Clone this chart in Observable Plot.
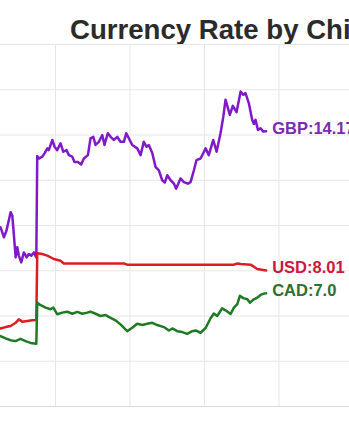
<!DOCTYPE html>
<html>
<head>
<meta charset="utf-8">
<script src="https://cdn.jsdelivr.net/npm/d3@7"></script>
<script src="https://cdn.jsdelivr.net/npm/@observablehq/plot@0.6"></script>
<style>
  html, body { margin: 0; padding: 0; background: #fff; overflow: hidden; }
  #wrap { position: relative; width: 349px; height: 436px; overflow: hidden; }
  #title { position: absolute; left: 70px; top: 16px; white-space: nowrap;
    font: bold 27.6px "Liberation Sans", Arial, sans-serif; line-height: 1; color: #2b2b2b; }
  #chart { position: absolute; left: 0; top: 43px; }
</style>
</head>
<body>
<div id="wrap">
  <div id="title">Currency Rate by China</div>
  <div id="chart"></div>
</div>
<script>
// ---- data (years, CNY per unit of currency) ----
const gbpYears = [1992.05,1992.23,1992.37,1992.59,1992.68,1992.76,1992.86,1992.95,1993.03,1993.16,1993.30,1993.45,1993.57,1993.70,1993.84,1993.97,
  1994.02,1994.11,1994.29,1994.41,1994.56,1994.64,1994.83,1994.95,1995.09,1995.27,1995.42,1995.59,1995.72,1995.90,1996.02,1996.20,1996.38,1996.52,1996.74,1996.88,
  1997.03,1997.15,1997.33,1997.51,1997.63,1997.81,1997.96,1998.13,1998.32,1998.49,1998.67,1998.80,1998.94,1999.12,1999.39,1999.57,1999.74,1999.89,
  2000.01,2000.20,2000.37,2000.55,2000.73,2000.87,2001.00,2001.18,2001.36,2001.48,2001.71,2001.89,2002.11,2002.25,2002.43,2002.57,2002.79,
  2003.06,2003.23,2003.47,2003.65,2003.86,2004.01,2004.13,2004.36,2004.52,2004.72,2004.94,2005.08,2005.20,2005.38,2005.56,2005.65,2005.74,2005.87,2006.01,2006.16,2006.31];
const gbpRates = [9.92,9.48,9.78,10.59,10.44,9.64,8.59,9.04,8.67,8.37,8.81,8.59,8.74,8.67,8.81,8.59,
  13.07,12.96,13.04,13.19,13.41,13.33,13.78,13.48,13.33,13.63,13.26,13.33,13.11,13.04,12.81,12.81,12.70,12.96,13.11,13.85,
  13.92,13.56,13.70,14.00,13.56,14.08,13.92,13.78,13.92,13.70,13.70,14.08,13.85,13.56,13.41,13.11,13.70,13.48,
  13.56,13.19,12.59,12.44,12.00,11.90,12.22,12.00,11.85,11.63,12.08,11.92,11.85,11.92,12.44,12.89,12.96,
  13.41,13.11,13.78,13.26,14.08,14.81,15.56,14.89,15.29,15.01,15.92,15.78,15.85,15.41,14.67,14.49,14.67,14.22,14.30,14.15,14.17];

const usdYears = [1992.05,1992.32,1992.59,1992.86,1993.03,1993.22,1993.48,1993.75,1993.97,1994.02,1994.29,1994.56,1994.91,1995.27,1995.45,1995.99,
  1997.96,1998.67,1998.85,2004.58,2004.76,2004.94,2005.47,2005.65,2005.83,2006.31];
const usdRates = [5.45,5.51,5.56,5.70,5.85,5.75,5.78,5.81,5.82,8.77,8.74,8.67,8.52,8.44,8.32,8.32,
  8.32,8.32,8.27,8.27,8.32,8.30,8.27,8.18,8.08,8.01];

const cadYears = [1992.05,1992.32,1992.59,1992.86,1993.12,1993.39,1993.66,1993.97,1994.02,1994.20,1994.47,1994.73,1994.88,1995.09,1995.36,1995.63,1995.90,
  1996.17,1996.44,1996.70,1996.88,1997.15,1997.42,1997.69,1997.96,1998.22,1998.49,1998.85,1999.12,1999.39,1999.66,1999.93,2000.20,2000.46,2000.82,
  2001.09,2001.27,2001.54,2001.81,2002.07,2002.34,2002.52,2002.79,2003.06,2003.32,2003.50,2003.68,2003.95,2004.13,2004.40,2004.58,2004.76,2004.90,
  2005.08,2005.30,2005.44,2005.65,2005.83,2006.01,2006.19,2006.31];
const cadRates = [5.11,5.01,4.93,4.89,4.99,4.89,4.81,4.77,6.59,6.48,6.37,6.30,6.37,6.08,6.15,6.19,6.10,
  6.18,6.10,6.15,6.19,6.10,6.00,6.04,5.92,5.81,5.63,5.33,5.48,5.66,5.60,5.66,5.70,5.60,5.51,
  5.36,5.45,5.33,5.29,5.21,5.33,5.36,5.26,5.47,5.89,6.11,6.00,6.34,6.25,6.09,6.37,6.52,6.89,
  6.79,6.74,6.59,6.74,6.81,6.93,6.99,7.00];

const seriesNames = ["GBP", "USD", "CAD"];
const endLabels = ["GBP:14.17", "USD:8.01", "CAD:7.0"];
const lineColors = ["#8019c8", "#dc1e22", "#1f7a24"];
const labelColors = ["#7a2bb0", "#cc1840", "#2e6e30"];
const xGridTicks = [1995, 1999, 2003, 2007];
const yGridTicks = [4, 6, 8, 10, 12, 14, 16, 18];
const yBase = 2;

// ---- build tables ----
const seriesYears = [gbpYears, usdYears, cadYears];
const seriesRates = [gbpRates, usdRates, cadRates];
const rows = [];
const ends = [];
seriesNames.forEach((name, i) => {
  seriesYears[i].forEach((yr, j) => rows.push({ name, year: yr, rate: seriesRates[i][j] }));
  const n = seriesYears[i].length - 1;
  ends.push({ name, year: seriesYears[i][n], rate: seriesRates[i][n], label: endLabels[i] });
});

const plot = Plot.plot({
  width: 349,
  height: 393,
  marginTop: 1,
  marginBottom: 30,
  marginLeft: 0,
  marginRight: 0,
  x: { type: "linear", domain: [1992.047, 1992.047 + 349 / 18.625], axis: null },
  y: { domain: [2, 18], axis: null },
  color: { domain: seriesNames, range: lineColors },
  style: { fontFamily: "'Liberation Sans', Arial, sans-serif", background: "transparent", overflow: "hidden" },
  marks: [
    Plot.gridY(yGridTicks, { stroke: "#e6e6e6", strokeOpacity: 1 }),
    Plot.gridX(xGridTicks, { stroke: "#e6e6e6", strokeOpacity: 1 }),
    Plot.ruleY([yBase], { stroke: "#d9d9d9" }),
    Plot.line(rows, { x: "year", y: "rate", z: "name", stroke: "name", strokeWidth: 2.5, strokeLinejoin: "round" }),
    Plot.text(ends, {
      x: "year", y: "rate", text: "label",
      fill: (d) => labelColors[seriesNames.indexOf(d.name)],
      dx: 6, dy: -2.5, textAnchor: "start", lineAnchor: "middle",
      fontSize: 16.5, fontWeight: "bold"
    })
  ]
});
document.getElementById("chart").appendChild(plot);
</script>
</body>
</html>
